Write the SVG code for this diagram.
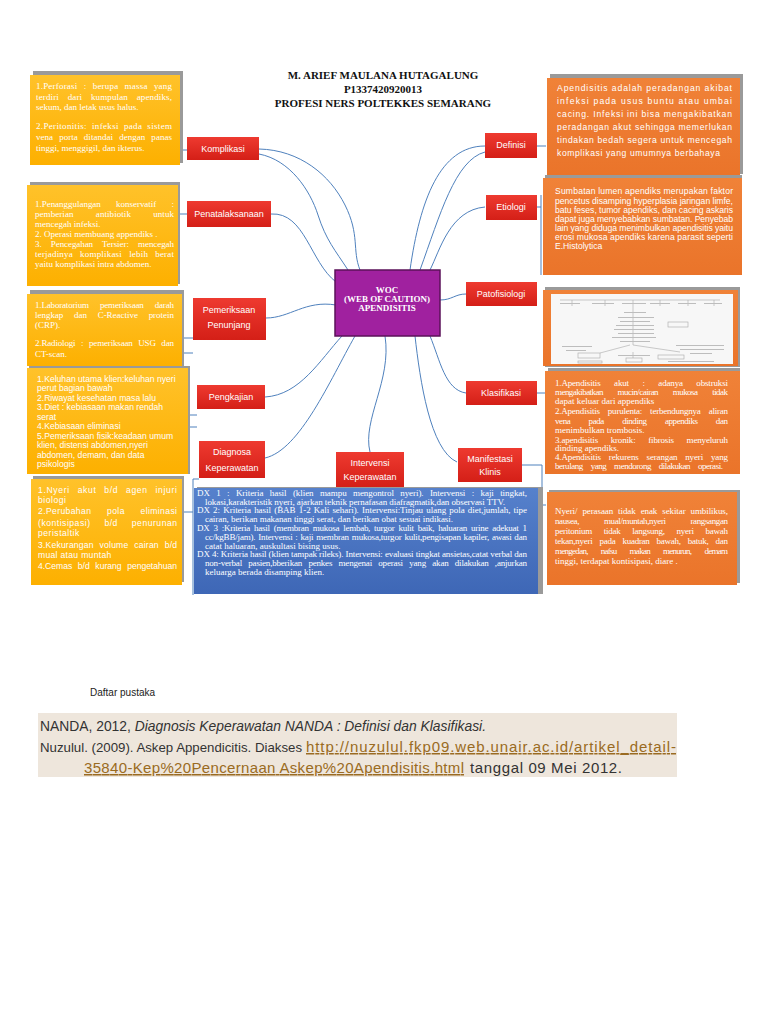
<svg xmlns="http://www.w3.org/2000/svg" width="768" height="1024" viewBox="0 0 768 1024">
<defs>
<linearGradient id="gy" x1="0" y1="0" x2="0" y2="1"><stop offset="0" stop-color="#FFC22A"/><stop offset="1" stop-color="#FDB000"/></linearGradient>
<linearGradient id="go" x1="0" y1="0" x2="0" y2="1"><stop offset="0" stop-color="#F08238"/><stop offset="1" stop-color="#EA742A"/></linearGradient>
<linearGradient id="gr" x1="0" y1="0" x2="0" y2="1"><stop offset="0" stop-color="#EE3A30"/><stop offset="1" stop-color="#D41F17"/></linearGradient>
<linearGradient id="gb" x1="0" y1="0" x2="0" y2="1"><stop offset="0" stop-color="#5681CC"/><stop offset="1" stop-color="#3E67B6"/></linearGradient>
<style>
.sh{fill:#9A9A9A}
.by{fill:url(#gy)}
.bo{fill:url(#go)}
.lbl{fill:url(#gr)}
.lt{font-family:"Liberation Sans",Arial,sans-serif;font-size:9px;fill:#fff;text-anchor:middle}
.sf{font-family:"Liberation Serif","Times New Roman",serif;font-size:9px;fill:#fff}
.ss{font-family:"Liberation Sans",Arial,sans-serif;font-size:8.6px;fill:#fff}
.hd{font-family:"Liberation Serif","Times New Roman",serif;font-size:11px;font-weight:bold;fill:#111;text-anchor:middle}
.c{fill:none;stroke:#4F81BD;stroke-width:1}
.ref{font-family:"Liberation Sans",Arial,sans-serif;fill:#333}
.lnk{fill:#9A6B22;text-decoration:underline}
.pf{fill:none;stroke:#A8A8A8;stroke-width:0.6}
.pb{fill:#BDBDBD}
</style>
</defs>
<rect width="768" height="1024" fill="#fff"/>

<g id="header">
<text class="hd" x="383" y="79">M. ARIEF MAULANA HUTAGALUNG</text>
<text class="hd" x="383" y="93">P1337420920013</text>
<text class="hd" x="383" y="107">PROFESI NERS POLTEKKES SEMARANG</text>
</g>

<g id="connectors">
<path class="c" d="M259,149 C300,150 330,175 345,205 S352,250 360,270"/>
<path class="c" d="M259,154 C290,160 310,190 318,215 S335,250 348,270"/>
<path class="c" d="M271,214 C305,212 310,262 336,282"/>
<path class="c" d="M266,318 C290,318 305,300 336,305"/>
<path class="c" d="M265,397 C300,395 320,360 342,336"/>
<path class="c" d="M265,458 C300,450 330,380 355,336"/>
<path class="c" d="M370,452 C362,420 392,380 385,336"/>
<path class="c" d="M457,462 C430,450 420,380 415,336"/>
<path class="c" d="M466,393 C445,390 440,360 430,336"/>
<path class="c" d="M466,294 C455,294 452,300 440,300"/>
<path class="c" d="M485,207 C450,210 440,250 430,270"/>
<path class="c" d="M485,146 C440,146 420,200 410,270"/>
<path class="c" d="M485,152 C455,160 440,215 420,270"/>
<path class="c" d="M182,150 L187,150"/>
<path class="c" d="M180,214 L187,214"/>
<path class="c" d="M183,338 L193,338 M183,353 L193,353"/>
<path class="c" d="M188,415 L197,415 M188,427 L197,427"/>
<path class="c" d="M184,512 L193,512 M199,479 L193,479 L193,595"/>
<path class="c" d="M537,146 L546,146"/>
<path class="c" d="M537,207 L541,207 M541,195 L541,275"/>
<path class="c" d="M537,393 L545,393"/>
<path class="c" d="M522,465 L542,465 L542,505 L546,505"/>
</g>

<g id="box-komplikasi-isi">
<rect class="sh" x="33" y="71" width="150" height="92"/>
<rect class="by" x="30" y="75" width="150" height="90"/>
<text class="sf" x="36" y="89" word-spacing="3.8" textLength="136" lengthAdjust="spacing">1.Perforasi : berupa massa yang</text>
<text class="sf" x="36" y="100" word-spacing="6.3" textLength="136" lengthAdjust="spacing">terdiri dari kumpulan apendiks,</text>
<text class="sf" x="36" y="110">sekum, dan letak usus halus.</text>
<text class="sf" x="36" y="129" word-spacing="2.5" textLength="136" lengthAdjust="spacing">2.Peritonitis: infeksi pada sistem</text>
<text class="sf" x="36" y="140" word-spacing="3.7" textLength="136" lengthAdjust="spacing">vena porta ditandai dengan panas</text>
<text class="sf" x="36" y="151">tinggi, menggigil, dan ikterus.</text>
</g>

<g id="box-penatalaksanaan-isi">
<rect class="sh" x="30" y="182" width="150" height="102"/>
<rect class="by" x="27" y="185" width="151" height="101"/>
<text class="sf" x="35" y="207" word-spacing="13" textLength="139" lengthAdjust="spacing">1.Penanggulangan konservatif :</text>
<text class="sf" x="35" y="217" word-spacing="20" textLength="139" lengthAdjust="spacing">pemberian antibiotik untuk</text>
<text class="sf" x="35" y="227">mencegah infeksi.</text>
<text class="sf" x="35" y="237">2. Operasi membuang appendiks .</text>
<text class="sf" x="35" y="247" word-spacing="7" textLength="139" lengthAdjust="spacing">3. Pencegahan Tersier: mencegah</text>
<text class="sf" x="35" y="257" word-spacing="4.7" textLength="139" lengthAdjust="spacing">terjadinya komplikasi lebih berat</text>
<text class="sf" x="35" y="267">yaitu komplikasi intra abdomen.</text>
</g>

<g id="box-penunjang-isi">
<rect class="sh" x="30" y="290" width="154" height="78"/>
<rect class="by" x="27" y="294" width="155" height="72"/>
<text class="sf" x="35" y="308" word-spacing="9" textLength="139" lengthAdjust="spacing">1.Laboratorium pemeriksaan darah</text>
<text class="sf" x="35" y="318" word-spacing="8.5" textLength="139" lengthAdjust="spacing">lengkap dan C-Reactive protein</text>
<text class="sf" x="35" y="328">(CRP).</text>
<text class="sf" x="35" y="346" word-spacing="3.5" textLength="139" lengthAdjust="spacing">2.Radiologi : pemeriksaan USG dan</text>
<text class="sf" x="35" y="357">CT-scan.</text>
</g>

<g id="box-pengkajian-isi">
<rect class="sh" x="29" y="366" width="161" height="108"/>
<rect class="by" x="27" y="368" width="161" height="106"/>
<text class="ss" x="37" y="382">1.Keluhan utama klien:keluhan nyeri</text>
<text class="ss" x="37" y="391">perut bagian bawah</text>
<text class="ss" x="37" y="401">2.Riwayat kesehatan masa lalu</text>
<text class="ss" x="37" y="410">3.Diet : kebiasaan makan rendah</text>
<text class="ss" x="37" y="420">serat</text>
<text class="ss" x="37" y="429">4.Kebiasaan eliminasi</text>
<text class="ss" x="37" y="439">5.Pemeriksaan fisik:keadaan umum</text>
<text class="ss" x="37" y="448">klien, distensi abdomen,nyeri</text>
<text class="ss" x="37" y="458">abdomen, demam, dan data</text>
<text class="ss" x="37" y="467">psikologis</text>
</g>

<g id="box-diagnosa-isi">
<rect class="sh" x="33" y="476" width="151" height="106"/>
<rect class="by" x="31" y="479" width="151" height="106"/>
<text class="ss" x="38" y="493" word-spacing="4.7" textLength="139" lengthAdjust="spacing">1.Nyeri akut b/d agen injuri</text>
<text class="ss" x="38" y="503" letter-spacing="0.5">biologi</text>
<text class="ss" x="38" y="514" word-spacing="13" textLength="139" lengthAdjust="spacing">2.Perubahan pola eliminasi</text>
<text class="ss" x="38" y="526" word-spacing="11" textLength="139" lengthAdjust="spacing">(kontisipasi) b/d penurunan</text>
<text class="ss" x="38" y="536" letter-spacing="0.5">peristaltik</text>
<text class="ss" x="38" y="548" word-spacing="3.3" textLength="139" lengthAdjust="spacing">3.Kekurangan volume cairan b/d</text>
<text class="ss" x="38" y="558" letter-spacing="0.3">mual atau muntah</text>
<text class="ss" x="38" y="569" word-spacing="3.3" textLength="139" lengthAdjust="spacing">4.Cemas b/d kurang pengetahuan</text>
</g>

<g id="box-definisi-isi">
<rect class="sh" x="550" y="74" width="193" height="100"/>
<rect class="bo" x="547" y="78" width="193" height="97"/>
<text class="ss" x="557" y="91" font-size="8.5" textLength="175" lengthAdjust="spacing">Apendisitis adalah peradangan akibat</text>
<text class="ss" x="557" y="104" font-size="8.5" textLength="175" lengthAdjust="spacing">infeksi pada usus buntu atau umbai</text>
<text class="ss" x="557" y="117" font-size="8.5" textLength="175" lengthAdjust="spacing">cacing. Infeksi ini bisa mengakibatkan</text>
<text class="ss" x="557" y="130" font-size="8.5" textLength="175" lengthAdjust="spacing">peradangan akut sehingga memerlukan</text>
<text class="ss" x="557" y="143" font-size="8.5" textLength="175" lengthAdjust="spacing">tindakan bedah segera untuk mencegah</text>
<text class="ss" x="557" y="156" font-size="8.5" textLength="163" lengthAdjust="spacing">komplikasi yang umumnya berbahaya</text>
</g>

<g id="box-etiologi-isi">
<rect class="sh" x="545" y="175" width="197" height="100"/>
<rect class="bo" x="543" y="178" width="199" height="97"/>
<text class="ss" x="555" y="194" font-size="6.8" textLength="178" lengthAdjust="spacing">Sumbatan lumen apendiks merupakan faktor</text>
<text class="ss" x="555" y="204" font-size="6.8" textLength="178" lengthAdjust="spacing">pencetus disamping hyperplasia jaringan limfe,</text>
<text class="ss" x="555" y="213" font-size="6.8" textLength="178" lengthAdjust="spacing">batu feses, tumor apendiks, dan cacing askaris</text>
<text class="ss" x="555" y="222" font-size="6.8" textLength="178" lengthAdjust="spacing">dapat juga menyebabkan sumbatan. Penyebab</text>
<text class="ss" x="555" y="231" font-size="6.8" textLength="178" lengthAdjust="spacing">lain yang diduga menimbulkan apendisitis yaitu</text>
<text class="ss" x="555" y="240" font-size="6.8" textLength="178" lengthAdjust="spacing">erosi mukosa apendiks karena parasit seperti</text>
<text class="ss" x="555" y="249" font-size="6.8">E.Histolytica</text>
</g>

<g id="box-patofisiologi-isi">
<rect class="sh" x="545" y="287" width="195" height="80"/>
<rect class="bo" x="543" y="290" width="195" height="76"/>
<rect x="551" y="294" width="182" height="70" fill="#F7F7F7"/>
<path class="pf" d="M560,300 H720 M572,300 V306 M605,300 V306 M633,300 V306 M660,300 V306 M688,300 V306 M714,300 V306 M633,306 V345 M630,345 L600,353 M633,345 L680,352 M633,352 V358"/>
<rect class="pb" x="560" y="303" width="20" height="1"/><rect class="pb" x="592" y="303" width="22" height="1"/>
<rect class="pb" x="622" y="303" width="24" height="1"/><rect class="pb" x="650" y="303" width="20" height="1"/>
<rect class="pb" x="678" y="303" width="18" height="1"/><rect class="pb" x="704" y="303" width="18" height="1"/>
<rect class="pb" x="624" y="312" width="22" height="1"/><rect class="pb" x="618" y="317" width="36" height="1"/>
<rect class="pb" x="620" y="321" width="30" height="1"/><rect class="pb" x="616" y="325" width="38" height="1"/>
<rect class="pb" x="614" y="329" width="40" height="1"/><rect class="pb" x="618" y="333" width="36" height="1"/>
<rect class="pb" x="612" y="337" width="44" height="1"/><rect class="pb" x="620" y="341" width="30" height="1"/>
<rect class="pb" x="562" y="346" width="30" height="1"/><rect class="pb" x="566" y="350" width="20" height="1"/>
<rect class="pb" x="676" y="345" width="48" height="1"/><rect class="pb" x="680" y="349" width="44" height="1"/>
<rect class="pb" x="690" y="353" width="22" height="1"/><rect class="pb" x="618" y="355" width="32" height="1"/>
<rect class="pb" x="668" y="361" width="46" height="1"/>
<rect class="pf" x="668" y="322" width="20" height="5"/>
<rect class="pf" x="578" y="353" width="22" height="5"/>
<rect class="pf" x="658" y="355" width="26" height="4"/>
<rect class="pf" x="626" y="358" width="16" height="4"/>
<rect class="pf" x="578" y="361" width="24" height="2"/>
</g>

<g id="box-klasifikasi-isi">
<rect class="sh" x="548" y="368" width="192" height="104"/>
<rect class="bo" x="545" y="371" width="195" height="103"/>
<text class="sf" x="555" y="386" font-size="8.2" word-spacing="11.5" textLength="173" lengthAdjust="spacing">1.Apendisitis akut : adanya obstruksi</text>
<text class="sf" x="555" y="395" font-size="8.2" word-spacing="13" textLength="173" lengthAdjust="spacing">mengakibatkan mucin/cairan mukosa tidak</text>
<text class="sf" x="555" y="404" font-size="8.2">dapat keluar dari appendiks</text>
<text class="sf" x="555" y="414" font-size="8.2" word-spacing="6" textLength="173" lengthAdjust="spacing">2.Apendisitis purulenta: terbendungnya aliran</text>
<text class="sf" x="555" y="424" font-size="8.2" word-spacing="16.5" textLength="173" lengthAdjust="spacing">vena pada dinding appendiks dan</text>
<text class="sf" x="555" y="433" font-size="8.2">menimbulkan trombosis.</text>
<text class="sf" x="555" y="443" font-size="8.2" word-spacing="10.7" textLength="173" lengthAdjust="spacing">3.apendisitis kronik: fibrosis menyeluruh</text>
<text class="sf" x="555" y="451" font-size="8.2">dinding apendiks.</text>
<text class="sf" x="555" y="460" font-size="8.2" word-spacing="5.8" textLength="173" lengthAdjust="spacing">4.Apendisitis rekurens serangan nyeri yang</text>
<text class="sf" x="555" y="469" font-size="8.2" word-spacing="6" textLength="168" lengthAdjust="spacing">berulang yang mendorong dilakukan operasi.</text>
</g>

<g id="box-manifestasi-isi">
<rect class="sh" x="549" y="490" width="191" height="93"/>
<rect class="bo" x="547" y="492" width="190" height="93"/>
<text class="sf" x="555" y="514" font-size="8.4" word-spacing="2.8" textLength="173" lengthAdjust="spacing">Nyeri/ perasaan tidak enak sekitar umbilikus,</text>
<text class="sf" x="555" y="524" font-size="8.4" word-spacing="23" textLength="173" lengthAdjust="spacing">nausea, mual/muntah,nyeri rangsangan</text>
<text class="sf" x="555" y="534" font-size="8.4" word-spacing="9.7" textLength="173" lengthAdjust="spacing">peritonium tidak langsung, nyeri bawah</text>
<text class="sf" x="555" y="544" font-size="8.4" word-spacing="5" textLength="173" lengthAdjust="spacing">tekan,nyeri pada kuadran bawah, batuk, dan</text>
<text class="sf" x="555" y="554" font-size="8.4" word-spacing="11.5" textLength="173" lengthAdjust="spacing">mengedan, nafsu makan menurun, demam</text>
<text class="sf" x="555" y="564" font-size="8.4">tinggi, terdapat kontisipasi, diare .</text>
</g>

<g id="box-intervensi-isi">
<rect class="sh" x="197" y="487" width="346" height="107"/>
<rect x="194" y="488" width="344" height="106" fill="url(#gb)"/>
<text class="sf" x="197" y="496" font-size="8.2" word-spacing="4.2" textLength="330" lengthAdjust="spacing">DX 1 : Kriteria hasil (klien mampu mengontrol nyeri). Intervensi : kaji tingkat,</text>
<text class="sf" x="205" y="505" font-size="8.2" textLength="300" lengthAdjust="spacing">lokasi,karakteristik nyeri, ajarkan teknik pernafasan diafragmatik,dan observasi TTV.</text>
<text class="sf" x="197" y="513" font-size="8.2" word-spacing="1" textLength="330" lengthAdjust="spacing">DX 2: Kriteria hasil (BAB 1-2 Kali sehari). Intervensi:Tinjau ulang pola diet,jumlah, tipe</text>
<text class="sf" x="205" y="522" font-size="8.2" textLength="248" lengthAdjust="spacing">cairan, berikan makanan tinggi serat, dan berikan obat sesuai indikasi.</text>
<text class="sf" x="197" y="531" font-size="8.2" word-spacing="2" textLength="330" lengthAdjust="spacing">DX 3 :Kriteria hasil (membran mukosa lembab, turgor kulit baik, haluaran urine adekuat 1</text>
<text class="sf" x="205" y="540" font-size="8.2" word-spacing="0.8" textLength="322" lengthAdjust="spacing">cc/kgBB/jam). Intervensi : kaji membran mukosa,turgor kulit,pengisapan kapiler, awasi dan</text>
<text class="sf" x="205" y="549" font-size="8.2">catat haluaran, auskultasi bising usus.</text>
<text class="sf" x="197" y="557" font-size="8.2" textLength="330" lengthAdjust="spacing">DX 4: Kriteria hasil (klien tampak rileks). Intervensi: evaluasi tingkat ansietas,catat verbal dan</text>
<text class="sf" x="205" y="566" font-size="8.2" word-spacing="4.3" textLength="322" lengthAdjust="spacing">non-verbal pasien,bberikan penkes mengenai operasi yang akan dilakukan ,anjurkan</text>
<text class="sf" x="205" y="575" font-size="8.2">keluarga berada disamping klien.</text>
</g>

<g id="center-woc">
<rect x="335" y="270" width="105" height="66" fill="#A0219F" stroke="#5B1259" stroke-width="1.5"/>
<text class="sf" x="387" y="293" font-size="6.5" font-weight="bold" text-anchor="middle">WOC</text>
<text class="sf" x="387" y="302" font-size="6.5" font-weight="bold" text-anchor="middle">(WEB OF CAUTION)</text>
<text class="sf" x="387" y="311" font-size="6.5" font-weight="bold" text-anchor="middle">APENDISITIS</text>
</g>

<g id="label-komplikasi"><rect class="lbl" x="187" y="137" width="72" height="23"/><text class="lt" x="223" y="152">Komplikasi</text></g>
<g id="label-penatalaksanaan"><rect class="lbl" x="187" y="201" width="84" height="26"/><text class="lt" x="229" y="217">Penatalaksanaan</text></g>
<g id="label-pemeriksaan"><rect class="lbl" x="193" y="298" width="73" height="42"/><text class="lt" x="229" y="313">Pemeriksaan</text><text class="lt" x="229" y="328">Penunjang</text></g>
<g id="label-pengkajian"><rect class="lbl" x="197" y="385" width="68" height="24"/><text class="lt" x="231" y="400">Pengkajian</text></g>
<g id="label-diagnosa"><rect class="lbl" x="199" y="441" width="66" height="37"/><text class="lt" x="232" y="455">Diagnosa</text><text class="lt" x="232" y="471">Keperawatan</text></g>
<g id="label-intervensi"><rect class="lbl" x="336" y="452" width="68" height="35"/><text class="lt" x="370" y="466">Intervensi</text><text class="lt" x="370" y="480">Keperawatan</text></g>
<g id="label-manifestasi"><rect class="lbl" x="458" y="448" width="64" height="34"/><text class="lt" x="490" y="462">Manifestasi</text><text class="lt" x="490" y="475">Klinis</text></g>
<g id="label-klasifikasi"><rect class="lbl" x="466" y="381" width="71" height="24"/><text class="lt" x="501" y="396">Klasifikasi</text></g>
<g id="label-patofisiologi"><rect class="lbl" x="466" y="282" width="71" height="24"/><text class="lt" x="501" y="297">Patofisiologi</text></g>
<g id="label-etiologi"><rect class="lbl" x="486" y="195" width="51" height="25"/><text class="lt" x="511" y="210">Etiologi</text></g>
<g id="label-definisi"><rect class="lbl" x="485" y="133" width="52" height="25"/><text class="lt" x="511" y="148">Definisi</text></g>

<g id="daftar-pustaka">
<text x="90" y="696" font-family="Liberation Sans, Arial, sans-serif" font-size="10" fill="#222">Daftar pustaka</text>
<rect x="38" y="713" width="639" height="64" fill="#EEE6DC"/>
<text class="ref" x="40" y="731" font-size="14" textLength="446" lengthAdjust="spacingAndGlyphs">NANDA, 2012, <tspan font-style="italic">Diagnosis Keperawatan NANDA : Definisi dan Klasifikasi.</tspan></text>
<text class="ref" x="40" y="752" font-size="13.5" textLength="262" lengthAdjust="spacingAndGlyphs">Nuzulul. (2009). Askep Appendicitis. Diakses</text>
<text class="ref lnk" x="306" y="752" font-size="15" textLength="370" lengthAdjust="spacing">http://nuzulul.fkp09.web.unair.ac.id/artikel_detail-</text>
<text class="ref lnk" x="84" y="773" font-size="15" textLength="380" lengthAdjust="spacing">35840-Kep%20Pencernaan Askep%20Apendisitis.html</text>
<text class="ref" x="470" y="773" font-size="15" textLength="152" lengthAdjust="spacing">tanggal 09 Mei 2012.</text>
</g>
</svg>
